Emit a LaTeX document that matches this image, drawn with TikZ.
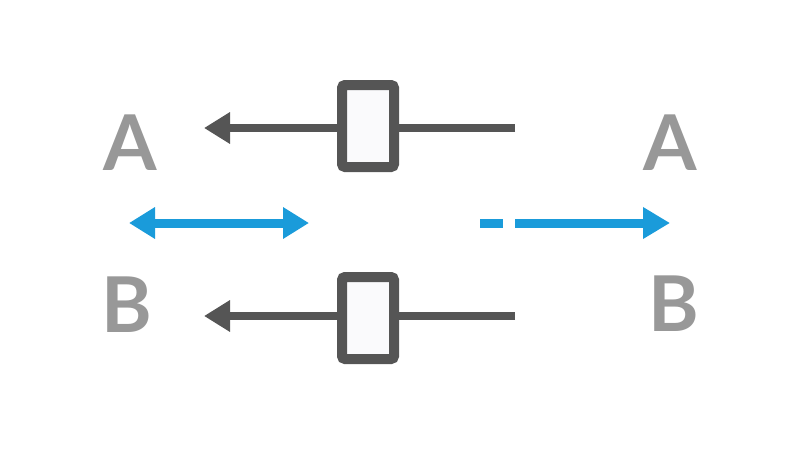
\documentclass[tikz,border=0pt]{standalone}
\usepackage{fontspec}
\newfontfamily\letterfont{Lato}
\usetikzlibrary{arrows.meta}
\definecolor{darkline}{RGB}{85,85,85}
\definecolor{lettergray}{RGB}{152,152,152}
\definecolor{bluearrow}{RGB}{26,155,218}
\definecolor{boxfill}{RGB}{250,250,252}
\tikzset{
  letter/.style={anchor=base, inner sep=0pt, text=lettergray, font=\letterfont\bfseries\fontsize{77}{77}\selectfont},
  darkarrow/.style={draw=darkline, line width=8pt, -{Triangle[length=26pt,width=30pt]}},
  valvebox/.style={draw=darkline, fill=boxfill, line width=10pt, rounded corners=3pt, minimum width=52pt, minimum height=82pt, inner sep=0pt},
  bluestroke/.style={draw=bluearrow, line width=9pt}
}
\begin{document}
\begin{tikzpicture}[x=1pt,y=-1pt]
\useasboundingbox (0,0) rectangle (800,450);
% letters
\node[letter] (A1) at (130,170) {A};
\node[letter] (A2) at (670,170) {A};
\node[letter] (B1) at (127,332) {B};
\node[letter] (B2) at (674,331) {B};
% top dark arrow
\coordinate (t1s) at (515,128);
\coordinate (t1e) at (204,128);
\draw[darkarrow] (t1s) -- (t1e);
\node[valvebox] (box1) at (368,126) {};
% bottom dark arrow
\coordinate (t2s) at (515,316);
\coordinate (t2e) at (204,316);
\draw[darkarrow] (t2s) -- (t2e);
\node[valvebox] (box2) at (368,318) {};
% blue arrows
\coordinate (bl1) at (129,223);
\coordinate (bl2) at (309,223);
\draw[bluestroke, {Triangle[length=26pt,width=30pt]}-{Triangle[length=26pt,width=30pt]}] (bl1) -- (bl2);
\coordinate (d1) at (480,223);
\coordinate (d2) at (503,223);
\draw[bluestroke] (d1) -- (d2);
\coordinate (r1) at (515,223);
\coordinate (r2) at (670,223);
\draw[bluestroke, -{Triangle[length=27pt,width=30pt]}] (r1) -- (r2);
\end{tikzpicture}
\end{document}
